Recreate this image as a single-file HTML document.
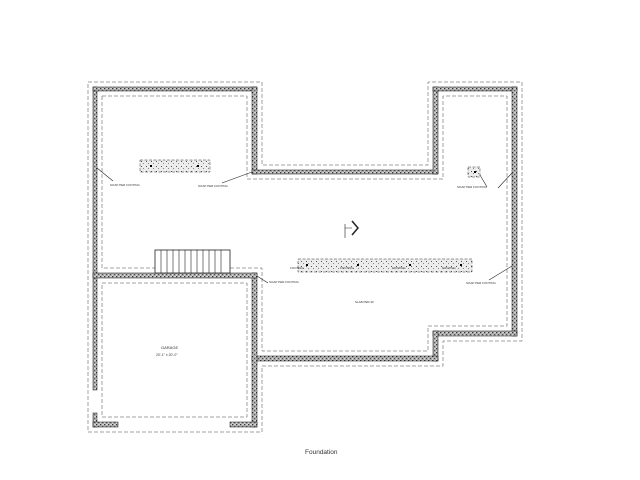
<!DOCTYPE html>
<html><head><style>
html,body{margin:0;padding:0;background:#fff;}
svg{display:block}
text{font-family:"Liberation Sans",sans-serif;fill:#333}
</style></head><body>
<svg width="640" height="480" viewBox="0 0 640 480" xmlns="http://www.w3.org/2000/svg">
<defs>
<pattern id="conc" width="4" height="4" patternUnits="userSpaceOnUse">
<rect width="4" height="4" fill="#b0b0b0"/>
<rect x="0" y="0" width="1.2" height="1.2" fill="#333"/>
<rect x="2" y="2" width="1.2" height="1.2" fill="#555"/>
<rect x="2.5" y="0" width="1" height="1" fill="#f4f4f4"/>
<rect x="0" y="2.5" width="1" height="1" fill="#eee"/>
</pattern>
<pattern id="light" width="5" height="5" patternUnits="userSpaceOnUse">
<rect width="5" height="5" fill="#ececec"/>
<rect x="1" y="1" width="1" height="1" fill="#555"/>
<rect x="3" y="3" width="1" height="1" fill="#888"/>
</pattern>
</defs>
<g fill="none" stroke="#444" stroke-width="0.5" stroke-dasharray="4,2">
<path d="M88,82 H262 V165 H428 V82 H522 V341 H443 V366 H262 V432 H88 Z"/>
<path d="M102,96 H247 V179 H443 V96 H507 V326 H428 V351 H262 V268 H102 Z"/>
<path d="M102,283 H247 V417 H102 Z"/>
</g>
<g fill="url(#conc)" stroke="#111" stroke-width="0.5">
<rect x="93" y="87" width="4" height="303"/>
<rect x="93" y="413" width="4" height="14"/>
<rect x="93" y="87" width="164" height="4"/>
<rect x="252" y="87" width="5" height="87"/>
<rect x="252" y="170" width="186" height="4"/>
<rect x="433" y="87" width="5" height="87"/>
<rect x="433" y="87" width="84" height="4"/>
<rect x="512" y="87" width="5" height="249"/>
<rect x="433" y="331" width="84" height="5"/>
<rect x="433" y="331" width="5" height="30"/>
<rect x="252" y="356" width="186" height="5"/>
<rect x="252" y="273" width="5" height="154"/>
<rect x="93" y="273" width="164" height="5"/>
<rect x="93" y="422" width="25" height="5"/>
<rect x="230" y="422" width="27" height="5"/>
</g>
<g stroke="#333" stroke-width="0.5" stroke-dasharray="3,1.5">
<rect x="140" y="160" width="70" height="12" fill="url(#light)"/>
<rect x="298" y="259" width="174" height="13" fill="url(#light)"/>
<rect x="468" y="167" width="12" height="10" fill="url(#light)"/>
</g>
<g fill="#000">
<rect x="150" y="165" width="2" height="2"/><rect x="197" y="165" width="2" height="2"/>
<rect x="306" y="264" width="2" height="2"/><rect x="357" y="264" width="2" height="2"/>
<rect x="409" y="264" width="2" height="2"/><rect x="460" y="264" width="2" height="2"/>
<rect x="474" y="171" width="2" height="2"/>
</g>
<g stroke="#222" stroke-width="0.6" fill="none">
<rect x="155" y="250" width="75" height="23" fill="#fff" stroke-width="0.8"/>
<path d="M161,250V273M167,250V273M173,250V273M179,250V273M185,250V273M191,250V273M197,250V273M203,250V273M209,250V273M215,250V273M221,250V273"/>
<path d="M97,168 L113,181 M252,172 L222,183 M257,276 L268,283 M512,266 L489,280 M480,175 L487,187 M512,173 L498,188"/>
<path d="M352,221 L358,228 L352,235" stroke-width="1.5"/>
<path d="M352,228 H345 M345,224 V238"/>
</g>
<g font-size="3">
<text x="110" y="186">SOAP PER FOOTING</text>
<text x="198" y="187">SOAP PER FOOTING</text>
<text x="269" y="283">SOAP PER FOOTING</text>
<text x="466" y="284">SOAP PER FOOTING</text>
<text x="457" y="188">SOAP PER FOOTING</text>
<text x="355" y="303">SLAB PER 2F</text>
<text x="290" y="269">FOOTING</text><text x="340" y="269">FOOTING</text><text x="392" y="269">FOOTING</text><text x="442" y="269">FOOTING</text>
</g>
<text x="161" y="349" font-size="4">GARAGE</text>
<text x="156" y="356" font-size="3.5">20'-1" x 20'-0"</text>
<text x="305" y="454" font-size="6.5">Foundation</text>
</svg>
</body></html>
